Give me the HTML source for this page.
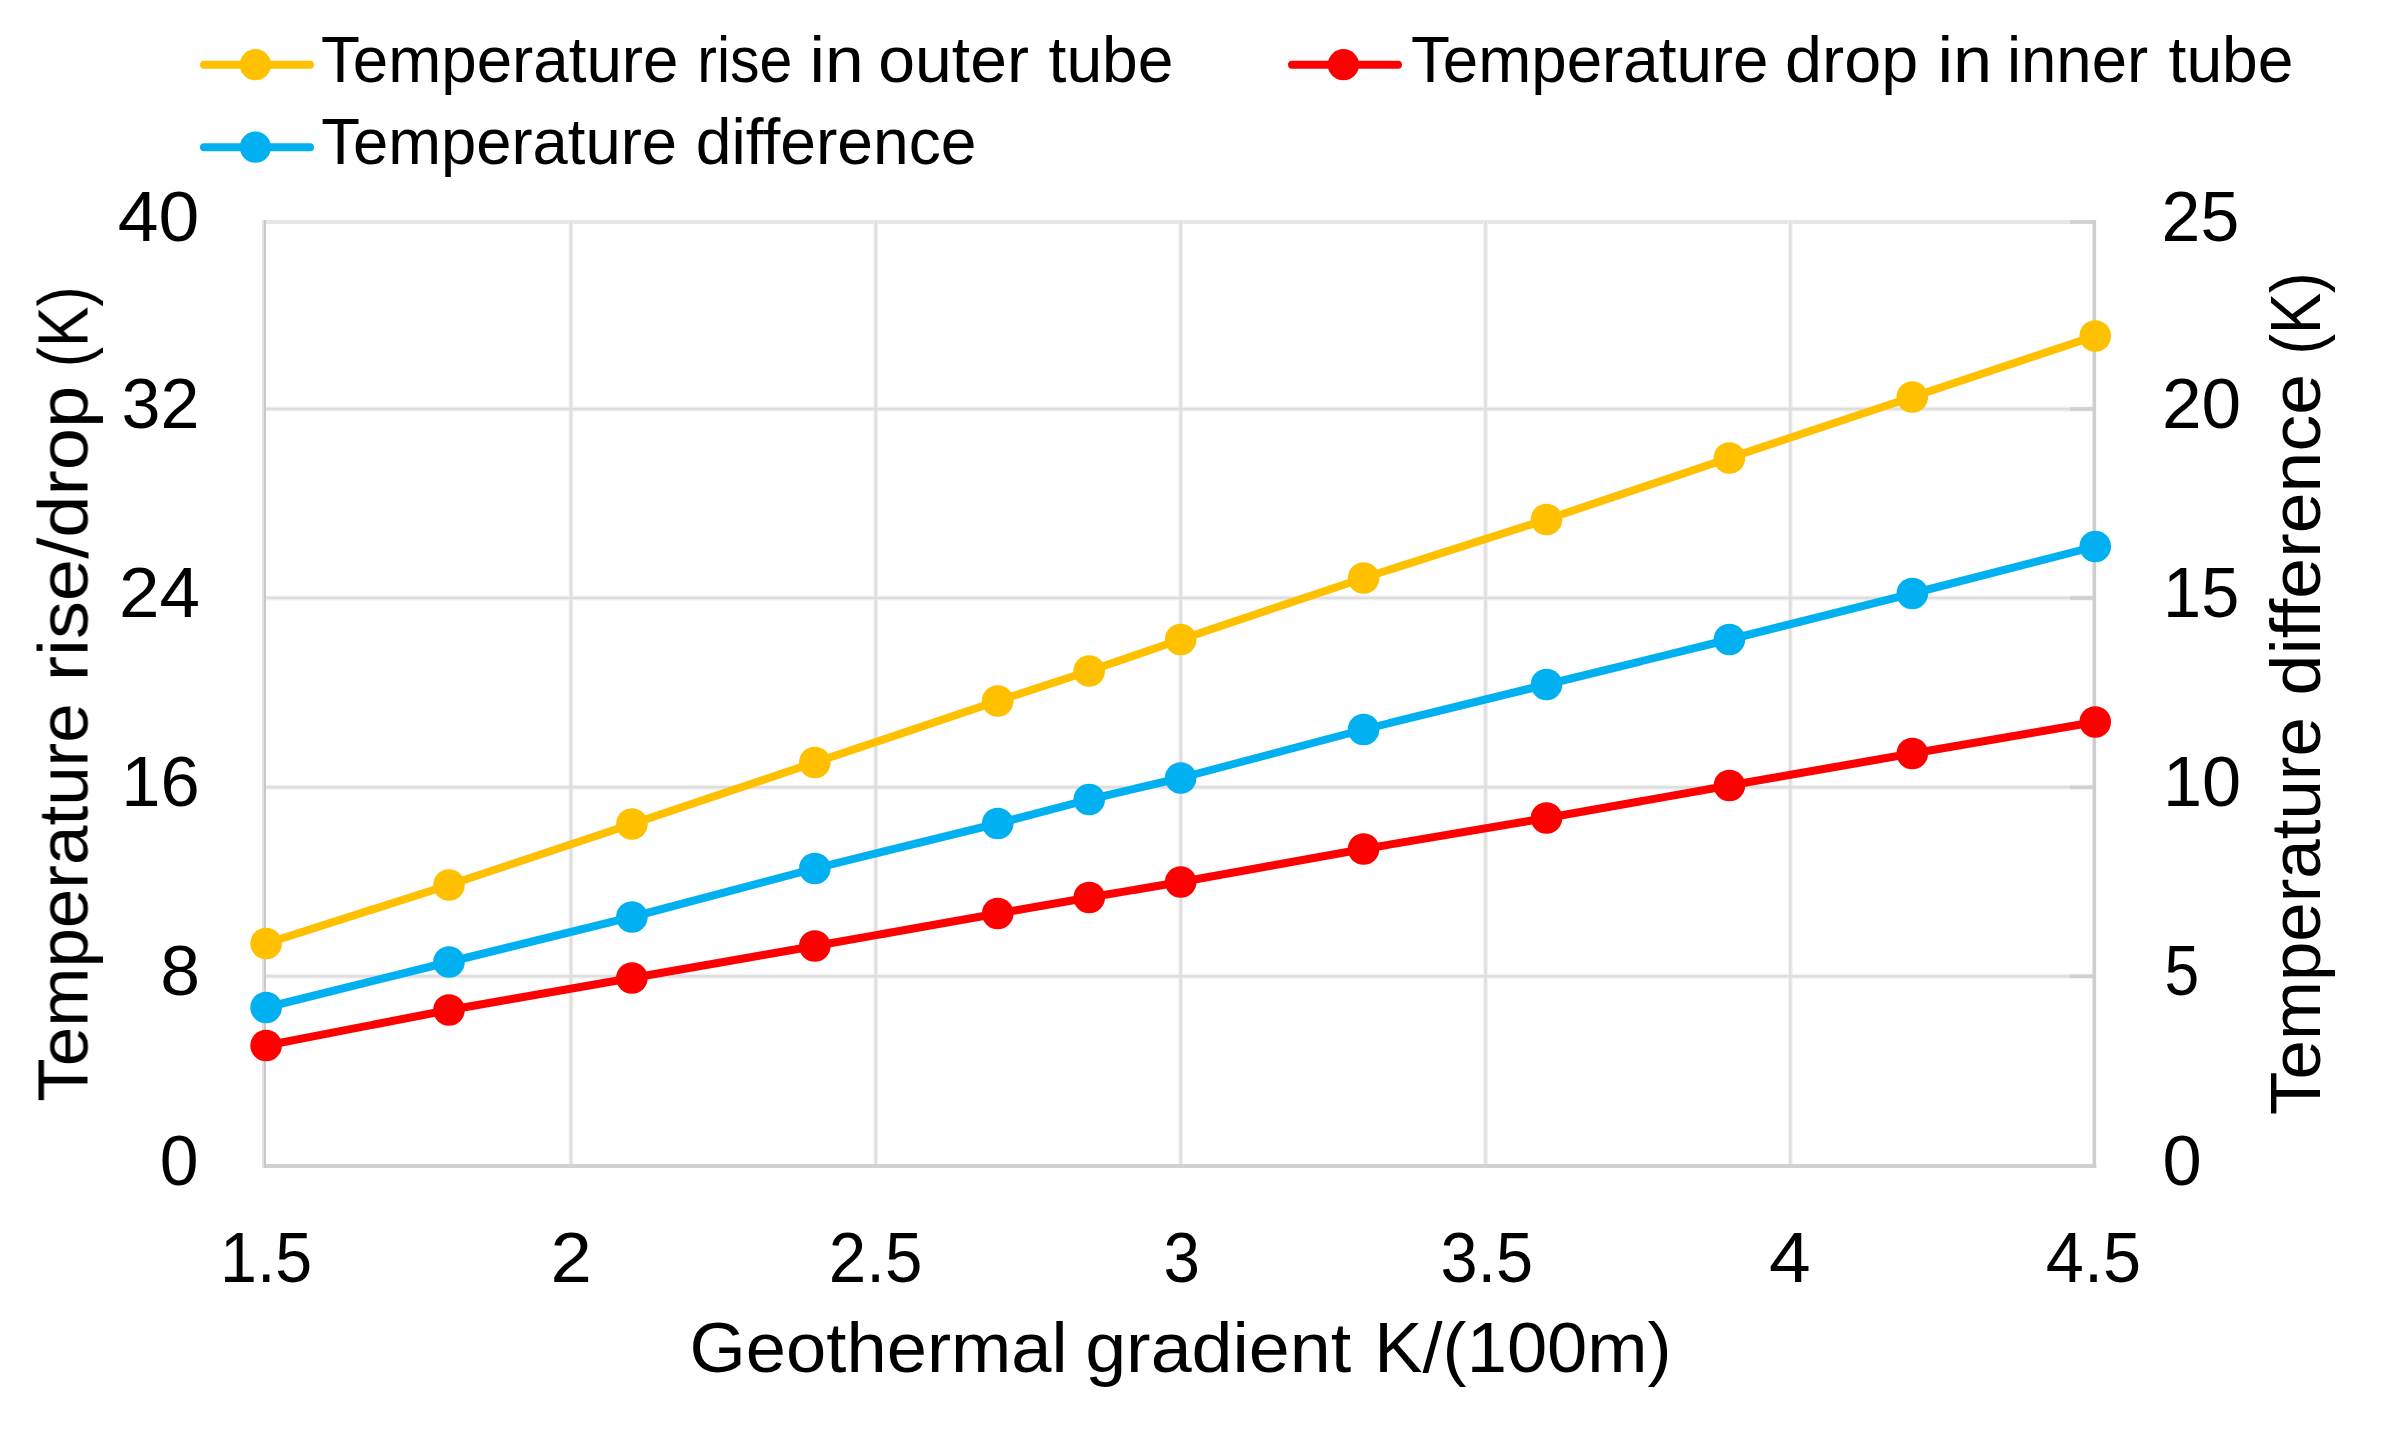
<!DOCTYPE html>
<html lang="en"><head><meta charset="utf-8"><title>Temperature vs geothermal gradient</title>
<style>
html,body{margin:0;padding:0;background:#fff;}
body{width:2390px;height:1436px;overflow:hidden;font-family:"Liberation Sans",sans-serif;}
svg{display:block;}
text{font-family:"Liberation Sans",sans-serif;fill:#000;}
</style></head><body>
<svg width="2390" height="1436" viewBox="0 0 2390 1436">
<defs><filter id="soft" filterUnits="userSpaceOnUse" x="0" y="0" width="2390" height="1436"><feGaussianBlur stdDeviation="0.7"/></filter></defs>
<rect width="2390" height="1436" fill="#fff"/>
<g filter="url(#soft)">
<line x1="262.0" y1="222" x2="2094.3" y2="222" stroke="#e6e6e6" stroke-width="4" fill="none"/>
<g stroke="#f2f2f2" stroke-width="5" fill="none"><line x1="571.0" y1="222" x2="571.0" y2="1166"/><line x1="875.8" y1="222" x2="875.8" y2="1166"/><line x1="1180.7" y1="222" x2="1180.7" y2="1166"/><line x1="1485.5" y1="222" x2="1485.5" y2="1166"/><line x1="1790.3" y1="222" x2="1790.3" y2="1166"/><line x1="264.0" y1="409.0" x2="2094.3" y2="409.0"/><line x1="264.0" y1="598.0" x2="2094.3" y2="598.0"/><line x1="264.0" y1="787.3" x2="2094.3" y2="787.3"/><line x1="264.0" y1="976.3" x2="2094.3" y2="976.3"/></g>
<g stroke="#dedede" stroke-width="2.4" fill="none"><line x1="571.0" y1="222" x2="571.0" y2="1166"/><line x1="875.8" y1="222" x2="875.8" y2="1166"/><line x1="1180.7" y1="222" x2="1180.7" y2="1166"/><line x1="1485.5" y1="222" x2="1485.5" y2="1166"/><line x1="1790.3" y1="222" x2="1790.3" y2="1166"/><line x1="264.0" y1="409.0" x2="2094.3" y2="409.0"/><line x1="264.0" y1="598.0" x2="2094.3" y2="598.0"/><line x1="264.0" y1="787.3" x2="2094.3" y2="787.3"/><line x1="264.0" y1="976.3" x2="2094.3" y2="976.3"/></g>
<g stroke="#d0d0d0" stroke-width="3.6" fill="none"><line x1="2070" y1="222.0" x2="2094.3" y2="222.0"/><line x1="2070" y1="409.0" x2="2094.3" y2="409.0"/><line x1="2070" y1="598.0" x2="2094.3" y2="598.0"/><line x1="2070" y1="787.3" x2="2094.3" y2="787.3"/><line x1="2070" y1="976.3" x2="2094.3" y2="976.3"/></g>
<g fill="none"><line x1="262.0" y1="1166" x2="2096.3" y2="1166" stroke="#d1d1d1" stroke-width="4"/><line x1="263" y1="220" x2="263" y2="1168" stroke="#e2e2e2" stroke-width="2"/><line x1="265" y1="220" x2="265" y2="1168" stroke="#c8c8c8" stroke-width="2"/><line x1="2094.3" y1="220" x2="2094.3" y2="1168" stroke="#cecece" stroke-width="3.6"/></g>
<g fill="#FFC000" stroke="none"><polyline points="266.1,943.5 449.0,885.0 631.9,824.0 814.8,762.5 997.7,701.0 1089.2,671.0 1180.7,639.5 1363.6,578.0 1546.5,519.5 1729.4,458.0 1912.3,397.0 2095.2,336.0" fill="none" stroke="#FFC000" stroke-width="8" stroke-linejoin="round" stroke-linecap="round"/><circle cx="266.1" cy="943.5" r="15.8"/><circle cx="449.0" cy="885.0" r="15.8"/><circle cx="631.9" cy="824.0" r="15.8"/><circle cx="814.8" cy="762.5" r="15.8"/><circle cx="997.7" cy="701.0" r="15.8"/><circle cx="1089.2" cy="671.0" r="15.8"/><circle cx="1180.7" cy="639.5" r="15.8"/><circle cx="1363.6" cy="578.0" r="15.8"/><circle cx="1546.5" cy="519.5" r="15.8"/><circle cx="1729.4" cy="458.0" r="15.8"/><circle cx="1912.3" cy="397.0" r="15.8"/><circle cx="2095.2" cy="336.0" r="15.8"/></g>
<g fill="#FF0000" stroke="none"><polyline points="266.1,1045.5 449.0,1010.0 631.9,978.0 814.8,946.0 997.7,913.5 1089.2,897.5 1180.7,882.0 1363.6,849.0 1546.5,818.0 1729.4,785.5 1912.3,753.5 2095.2,722.0" fill="none" stroke="#FF0000" stroke-width="8" stroke-linejoin="round" stroke-linecap="round"/><circle cx="266.1" cy="1045.5" r="15.8"/><circle cx="449.0" cy="1010.0" r="15.8"/><circle cx="631.9" cy="978.0" r="15.8"/><circle cx="814.8" cy="946.0" r="15.8"/><circle cx="997.7" cy="913.5" r="15.8"/><circle cx="1089.2" cy="897.5" r="15.8"/><circle cx="1180.7" cy="882.0" r="15.8"/><circle cx="1363.6" cy="849.0" r="15.8"/><circle cx="1546.5" cy="818.0" r="15.8"/><circle cx="1729.4" cy="785.5" r="15.8"/><circle cx="1912.3" cy="753.5" r="15.8"/><circle cx="2095.2" cy="722.0" r="15.8"/></g>
<g fill="#00B0F0" stroke="none"><polyline points="266.1,1007.5 449.0,962.0 631.9,917.0 814.8,868.5 997.7,823.5 1089.2,799.5 1180.7,778.0 1363.6,729.5 1546.5,684.5 1729.4,639.5 1912.3,593.5 2095.2,546.5" fill="none" stroke="#00B0F0" stroke-width="8" stroke-linejoin="round" stroke-linecap="round"/><circle cx="266.1" cy="1007.5" r="15.8"/><circle cx="449.0" cy="962.0" r="15.8"/><circle cx="631.9" cy="917.0" r="15.8"/><circle cx="814.8" cy="868.5" r="15.8"/><circle cx="997.7" cy="823.5" r="15.8"/><circle cx="1089.2" cy="799.5" r="15.8"/><circle cx="1180.7" cy="778.0" r="15.8"/><circle cx="1363.6" cy="729.5" r="15.8"/><circle cx="1546.5" cy="684.5" r="15.8"/><circle cx="1729.4" cy="639.5" r="15.8"/><circle cx="1912.3" cy="593.5" r="15.8"/><circle cx="2095.2" cy="546.5" r="15.8"/></g>
<g><line x1="204" y1="64.7" x2="310" y2="64.7" stroke="#FFC000" stroke-width="8" stroke-linecap="round"/><circle cx="255.4" cy="64.7" r="15.6" fill="#FFC000"/></g>
<g><line x1="1292" y1="64.7" x2="1398" y2="64.7" stroke="#FF0000" stroke-width="8" stroke-linecap="round"/><circle cx="1343.4" cy="64.7" r="15.6" fill="#FF0000"/></g>
<g><line x1="204" y1="147.2" x2="310" y2="147.2" stroke="#00B0F0" stroke-width="8" stroke-linecap="round"/><circle cx="255.4" cy="147.2" r="15.6" fill="#00B0F0"/></g>
<text id="l1" y="81.5" font-size="64"><tspan x="320.9" textLength="357.6" lengthAdjust="spacingAndGlyphs">Temperature</tspan> <tspan x="697.3" textLength="95.1" lengthAdjust="spacingAndGlyphs">rise</tspan> <tspan x="809.6" textLength="54.2" lengthAdjust="spacingAndGlyphs">in</tspan> <tspan x="878.3" textLength="150.6" lengthAdjust="spacingAndGlyphs">outer</tspan> <tspan x="1048.6" textLength="124.9" lengthAdjust="spacingAndGlyphs">tube</tspan></text>
<text id="l2" y="81.5" font-size="64"><tspan x="1410.9" textLength="357.6" lengthAdjust="spacingAndGlyphs">Temperature</tspan> <tspan x="1785.1" textLength="133.1" lengthAdjust="spacingAndGlyphs">drop</tspan> <tspan x="1937.5" textLength="54.7" lengthAdjust="spacingAndGlyphs">in</tspan> <tspan x="2006.9" textLength="141.2" lengthAdjust="spacingAndGlyphs">inner</tspan> <tspan x="2168.6" textLength="124.9" lengthAdjust="spacingAndGlyphs">tube</tspan></text>
<text id="l3" y="164" font-size="64"><tspan x="321.3" textLength="355.7" lengthAdjust="spacingAndGlyphs">Temperature</tspan> <tspan x="695.8" textLength="280.6" lengthAdjust="spacingAndGlyphs">difference</tspan></text>
<text id="yl0" y="240.8" font-size="71"><tspan x="117.8" textLength="81.5" lengthAdjust="spacingAndGlyphs">40</tspan></text>
<text id="yl1" y="427.8" font-size="71"><tspan x="121.6" textLength="77.9" lengthAdjust="spacingAndGlyphs">32</tspan></text>
<text id="yl2" y="616.8" font-size="71"><tspan x="119.0" textLength="81.0" lengthAdjust="spacingAndGlyphs">24</tspan></text>
<text id="yl3" y="806.1" font-size="71"><tspan x="121.3" textLength="78.5" lengthAdjust="spacingAndGlyphs">16</tspan></text>
<text id="yl4" y="995.1" font-size="71"><tspan x="160.3" textLength="39.8" lengthAdjust="spacingAndGlyphs">8</tspan></text>
<text id="yl5" y="1184.8" font-size="71"><tspan x="159.8" textLength="38.8" lengthAdjust="spacingAndGlyphs">0</tspan></text>
<text id="yr0" y="240.8" font-size="71"><tspan x="2161.6" textLength="77.7" lengthAdjust="spacingAndGlyphs">25</tspan></text>
<text id="yr1" y="427.8" font-size="71"><tspan x="2162.0" textLength="79.2" lengthAdjust="spacingAndGlyphs">20</tspan></text>
<text id="yr2" y="616.8" font-size="71"><tspan x="2163.0" textLength="76.3" lengthAdjust="spacingAndGlyphs">15</tspan></text>
<text id="yr3" y="806.1" font-size="71"><tspan x="2162.9" textLength="78.2" lengthAdjust="spacingAndGlyphs">10</tspan></text>
<text id="yr4" y="995.1" font-size="71"><tspan x="2164.6" textLength="34.7" lengthAdjust="spacingAndGlyphs">5</tspan></text>
<text id="yr5" y="1184.8" font-size="71"><tspan x="2162.5" textLength="39.2" lengthAdjust="spacingAndGlyphs">0</tspan></text>
<text id="xl0" y="1281.8" font-size="71"><tspan x="220.0" textLength="92.2" lengthAdjust="spacingAndGlyphs">1.5</tspan></text>
<text id="xl1" y="1281.8" font-size="71"><tspan x="550.6" textLength="41.4" lengthAdjust="spacingAndGlyphs">2</tspan></text>
<text id="xl2" y="1281.8" font-size="71"><tspan x="828.8" textLength="93.6" lengthAdjust="spacingAndGlyphs">2.5</tspan></text>
<text id="xl3" y="1281.8" font-size="71"><tspan x="1163.6" textLength="36.5" lengthAdjust="spacingAndGlyphs">3</tspan></text>
<text id="xl4" y="1281.8" font-size="71"><tspan x="1440.4" textLength="92.8" lengthAdjust="spacingAndGlyphs">3.5</tspan></text>
<text id="xl5" y="1281.8" font-size="71"><tspan x="1768.9" textLength="41.7" lengthAdjust="spacingAndGlyphs">4</tspan></text>
<text id="xl6" y="1281.8" font-size="71"><tspan x="2045.8" textLength="95.2" lengthAdjust="spacingAndGlyphs">4.5</tspan></text>
<text id="xt" y="1372.4" font-size="71"><tspan x="689.6" textLength="378.0" lengthAdjust="spacingAndGlyphs">Geothermal</tspan> <tspan x="1085.2" textLength="266.0" lengthAdjust="spacingAndGlyphs">gradient</tspan> <tspan x="1374.3" textLength="297.3" lengthAdjust="spacingAndGlyphs">K/(100m)</tspan></text>
<text id="yt" y="0" font-size="71" transform="translate(87.5,0) rotate(-90)"><tspan x="-1101.7" textLength="398.4" lengthAdjust="spacingAndGlyphs">Temperature</tspan> <tspan x="-681.3" textLength="295.6" lengthAdjust="spacingAndGlyphs">rise/drop</tspan> <tspan x="-367.2" textLength="80.8" lengthAdjust="spacingAndGlyphs">(K)</tspan></text>
<text id="yt2" y="0" font-size="71" transform="translate(2320,0) rotate(-90)"><tspan x="-1114.9" textLength="397.7" lengthAdjust="spacingAndGlyphs">Temperature</tspan> <tspan x="-695.4" textLength="321.4" lengthAdjust="spacingAndGlyphs">difference</tspan> <tspan x="-354.5" textLength="82.1" lengthAdjust="spacingAndGlyphs">(K)</tspan></text>
</g>
</svg></body></html>
